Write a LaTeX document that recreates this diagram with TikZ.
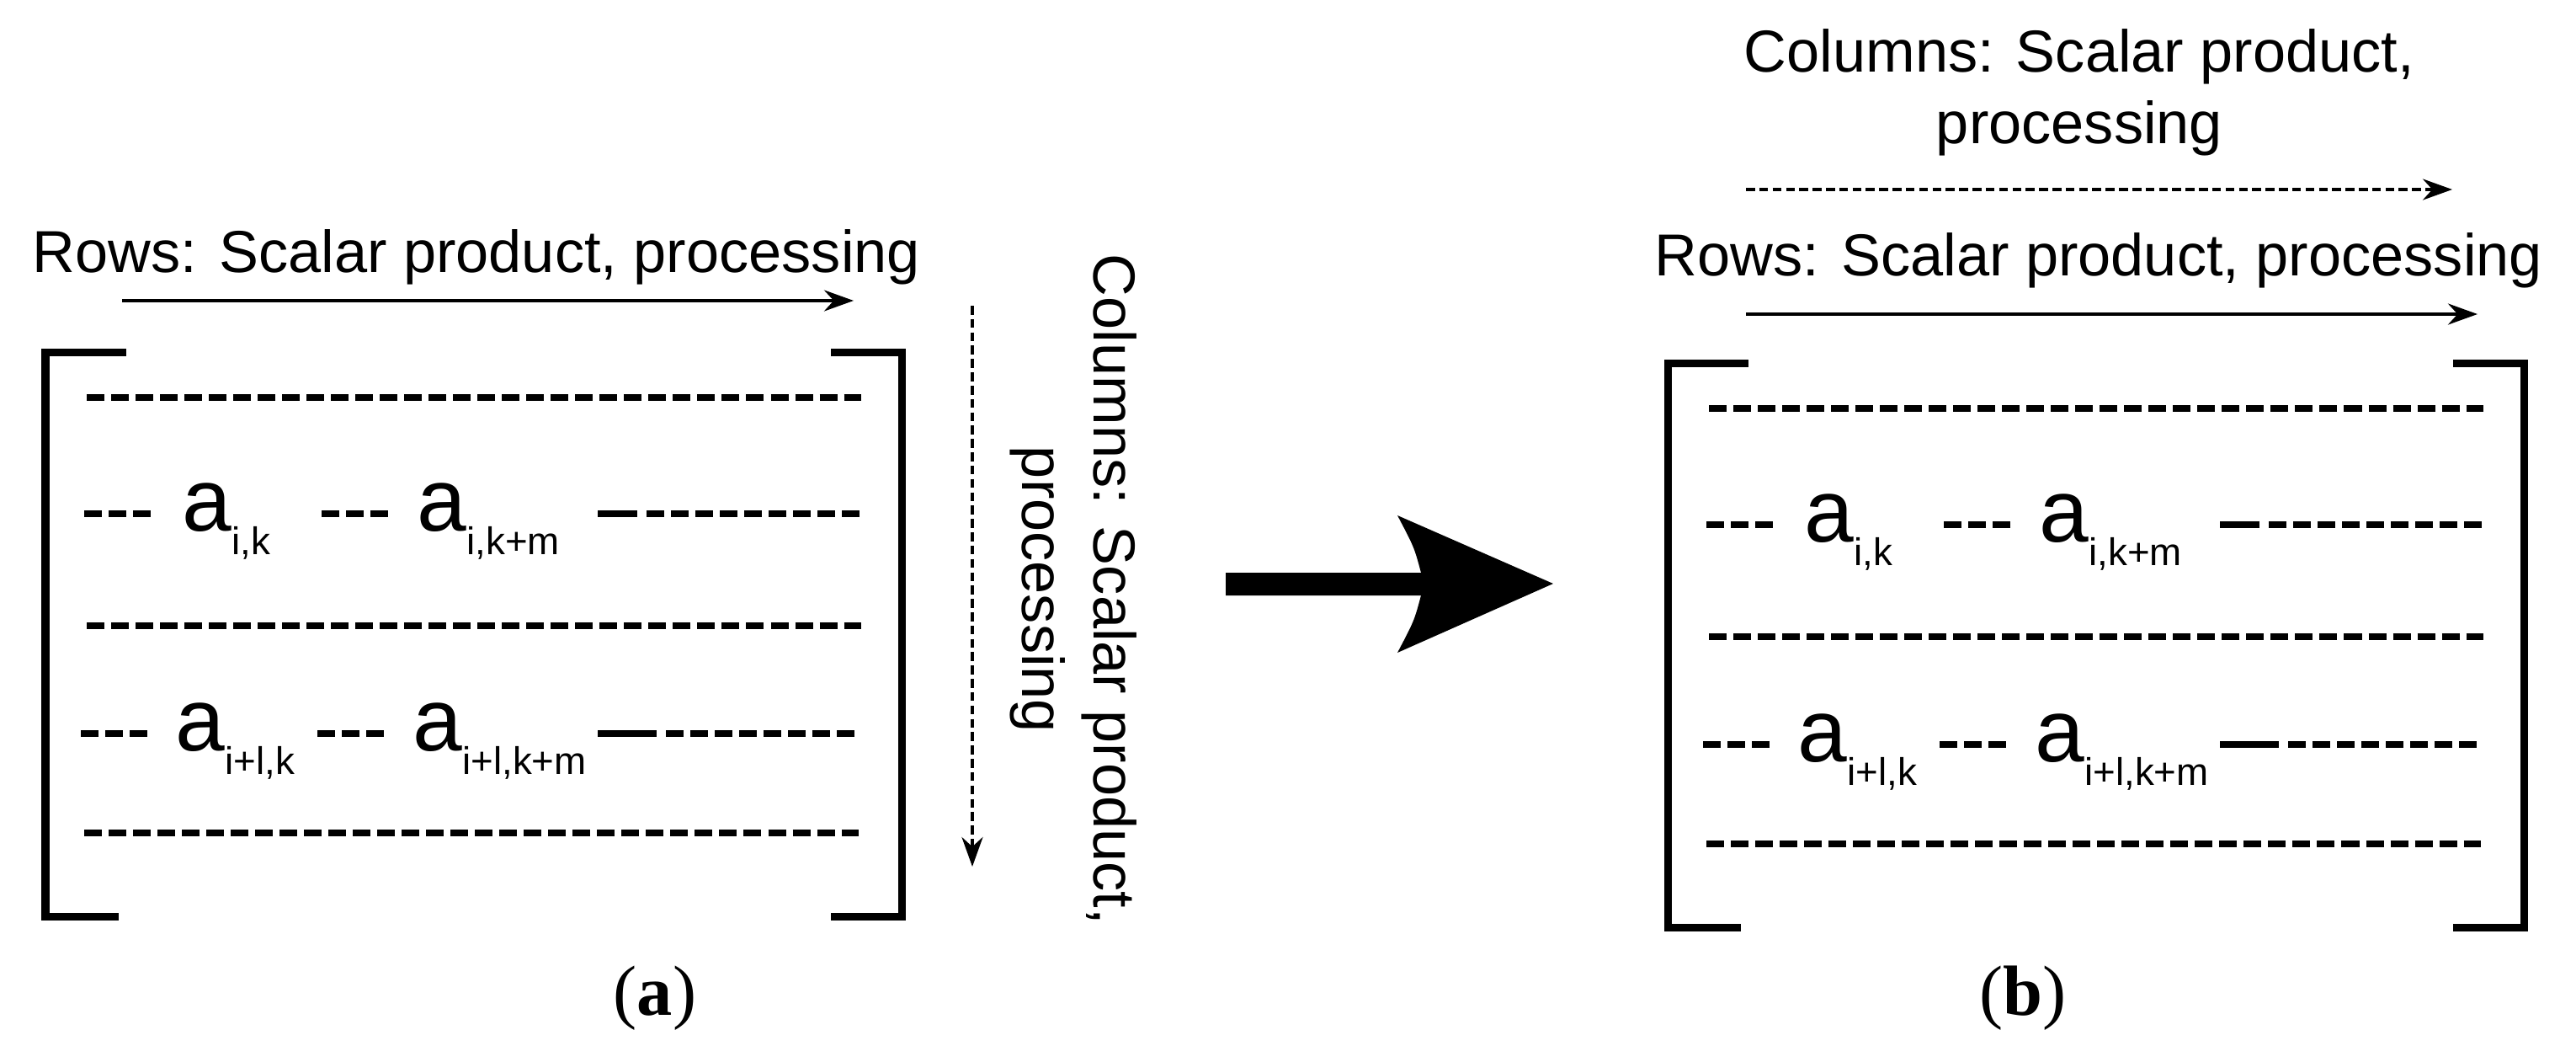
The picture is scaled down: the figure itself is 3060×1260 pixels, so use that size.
\documentclass[tikz,border=0pt]{standalone}
\usepackage{fontspec}
\setmainfont{Liberation Sans}
\newfontfamily\capfont{Liberation Serif}
\usetikzlibrary{arrows.meta}
\newcommand\entry[1]{{\fontsize{30}{30}\selectfont a}{\fontsize{13}{13}\selectfont\raisebox{-8pt}{#1}}}
\tikzset{
  lbl/.style={font=\fontsize{20}{24}\selectfont, inner sep=0pt, align=center},
  ent/.style={anchor=base west, inner sep=0pt},
  row/.style={line width=0.085cm, dash pattern=on 0.21cm off 0.08cm},
  solidrow/.style={line width=0.085cm},
  brk/.style={line width=0.09cm, line cap=rect},
  flow/.style={line width=1.1pt, -{Stealth[length=0.35cm,width=0.25cm]}},
  dflow/.style={flow, dash pattern=on 3pt off 1.5pt},
}
\begin{document}
\begin{tikzpicture}[x=0.01cm, y=-0.01cm]
\useasboundingbox (0,0) rectangle (3060,1260);
% one matrix panel
\newcommand\panel{%
  \draw[brk] (145,418) -- (54,418) -- (54,1088) -- (136,1088);
  \draw[brk] (991,418) -- (1071,418) -- (1071,1088) -- (991,1088);
  \draw[row] (103,472) -- (1023,472);
  \draw[row] (103,743) -- (1023,743);
  \draw[row] (100,989) -- (1020,989);
  \draw[row] (100,610) -- (179,610);
  \draw[row] (382,610) -- (461,610);
  \draw[solidrow] (710,610) -- (757,610);
  \draw[row] (768,610) -- (1021,610);
  \draw[row] (96,871) -- (175,871);
  \draw[row] (377,871) -- (456,871);
  \draw[solidrow] (710,871) -- (780,871);
  \draw[row] (791,871) -- (1015,871);
  \node[ent] (e11) at (216,630) {\entry{i,k}};
  \node[ent] (e12) at (495,630) {\entry{i,k+m}};
  \node[ent] (e21) at (208,891) {\entry{i+l,k}};
  \node[ent] (e22) at (490,891) {\entry{i+l,k+m}};
}
% (a)
\panel
\node[lbl] (rowsa) at (566,305) {Rows: Scalar product, processing};
\coordinate (ra1) at (145,357);
\coordinate (ra2) at (1014,357);
\draw[flow] (ra1) -- (ra2);
\coordinate (ca1) at (1155,363);
\coordinate (ca2) at (1155,1029);
\draw[dflow] (ca1) -- (ca2);
\node[lbl, rotate=-90] (colsa) at (1275,700) {Columns: Scalar product,\\processing};
\node[font=\capfont\fontsize{24}{24}\selectfont] (capa) at (778,1185) {(\textbf{a})};
% big arrow
\fill (1456,680) -- (1688,680) .. controls (1680,650) .. (1660,612) -- (1845,693)
  -- (1660,775) .. controls (1680,737) .. (1688,707) -- (1456,707) -- cycle;
% (b)
\begin{scope}[shift={(1927,13)}, name prefix=b-]
\panel
\end{scope}
\node[lbl] (colsb) at (2470,110) {Columns: Scalar product,\\processing};
\coordinate (cb1) at (2074,225);
\coordinate (cb2) at (2913,225);
\draw[dflow] (cb1) -- (cb2);
\node[lbl] (rowsb) at (2493,309) {Rows: Scalar product, processing};
\coordinate (rb1) at (2074,373);
\coordinate (rb2) at (2943,373);
\draw[flow] (rb1) -- (rb2);
\node[font=\capfont\fontsize{24}{24}\selectfont] (capb) at (2403,1185) {(\textbf{b})};
\end{tikzpicture}
\end{document}
